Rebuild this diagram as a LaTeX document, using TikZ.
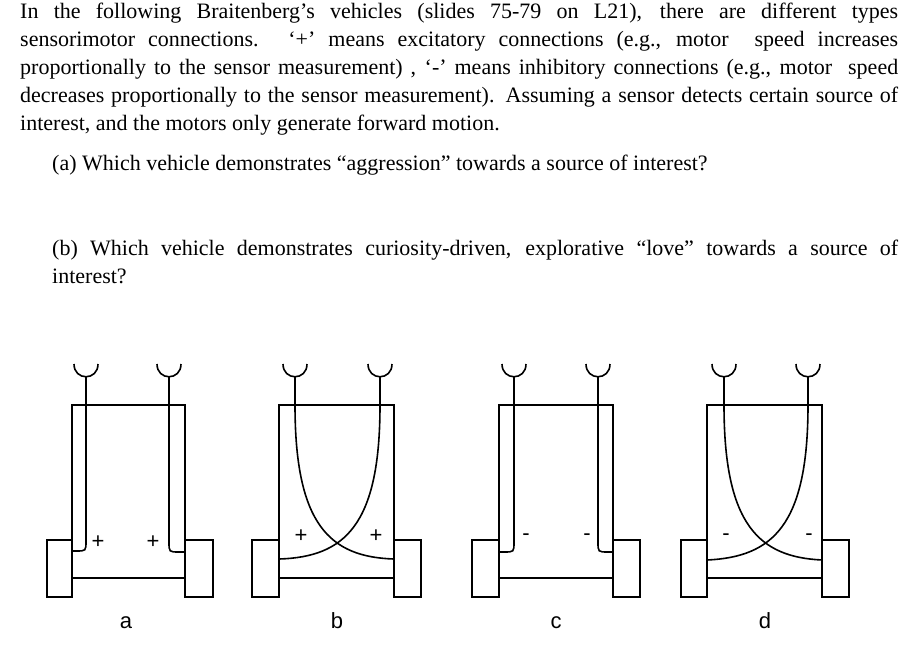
\documentclass[tikz,border=0pt]{standalone}
\usepackage{fontspec}
\setmainfont{Liberation Serif}
\setsansfont{Liberation Sans}
\begin{document}
\begin{tikzpicture}[x=1pt,y=-1pt,
  bodyl/.style={line width=2.8pt,line join=miter},
  wire/.style={line width=1.6pt},
  sgn/.style={font=\sffamily\fontsize{22}{22}\selectfont,inner sep=0pt},
  lab/.style={font=\sffamily\fontsize{22}{22}\selectfont,inner sep=0pt}]
\useasboundingbox (0,0) rectangle (913,647);
\node[anchor=north west,inner sep=0pt,text width=878pt,align=justify,
  font=\fontsize{22}{28}\selectfont] (intro) at (20,3)
{\hyphenpenalty=10000 In the following Braitenberg's vehicles (slides 75-79 on L21), there are different types\linebreak sensorimotor connections. `+' means excitatory connections (e.g., motor\ \ speed increases\linebreak proportionally to the sensor measurement)\ , `-' means inhibitory connections (e.g., motor\ \ speed\linebreak decreases proportionally to the sensor measurement). Assuming a sensor detects certain source of\linebreak interest, and the motors only generate forward motion.};
\node[anchor=north west,inner sep=0pt,font=\fontsize{22}{28}\selectfont] (qa) at (52,155)
{(a) Which vehicle demonstrates ``aggression'' towards a source of interest?};
\node[anchor=north west,inner sep=0pt,text width=846pt,align=justify,
  font=\fontsize{22}{28}\selectfont] (qb) at (52,240)
{\hangindent=34pt\hangafter=1 (b) Which vehicle demonstrates curiosity-driven, explorative ``love'' towards a source of\linebreak interest?};
\newcommand{\vehicle}[6]{%
  \draw[bodyl] (#1,405) rectangle (#2,578);
  \draw[bodyl] (#5,540) rectangle (#1,597);
  \draw[bodyl] (#2,540) rectangle (#6,597);
  \foreach \s in {#3,#4}{
    \draw[wire] (\s-12,364) .. controls (\s-12,381) and (\s+12,381) .. (\s+12,364);
    \draw[wire] (\s,377) -- (\s,405);}
}
% a
\vehicle{72}{185}{86}{169}{47}{213}
\draw[wire] (86,405) -- (86,541) .. controls (86,551) .. (76,551) -- (72,551);
\draw[wire] (169,405) -- (169,542) .. controls (169,552) .. (179,552) -- (185,552);
\node[sgn] (pa1) at (98,542) {+};
\node[sgn] (pa2) at (153,542) {+};
\node[lab] (la) at (126,623) {a};
% b
\vehicle{279}{394}{295}{380}{252}{421}
\draw[wire] (295,405) .. controls (295,525) and (330,557) .. (394,559);
\draw[wire] (380,405) .. controls (380,525) and (345,557) .. (279,559);
\node[sgn] (pb1) at (301,536) {+};
\node[sgn] (pb2) at (376,536) {+};
\node[lab] (lb) at (337,621) {b};
% c
\vehicle{499}{613}{514}{598}{472}{640}
\draw[wire] (514,405) -- (514,542) .. controls (514,552) .. (504,552) -- (499,552);
\draw[wire] (598,405) -- (598,542) .. controls (598,552) .. (608,552) -- (613,552);
\node[sgn] (mc1) at (526,537) {-};
\node[sgn] (mc2) at (587,537) {-};
\node[lab] (lc) at (556,623) {c};
% d
\vehicle{707}{822}{724}{808}{681}{849}
\draw[wire] (724,405) .. controls (724,525) and (759,557) .. (822,560);
\draw[wire] (808,405) .. controls (808,525) and (773,557) .. (707,560);
\node[sgn] (md1) at (726,537) {-};
\node[sgn] (md2) at (809,537) {-};
\node[lab] (ld) at (765,621) {d};
\end{tikzpicture}
\end{document}
